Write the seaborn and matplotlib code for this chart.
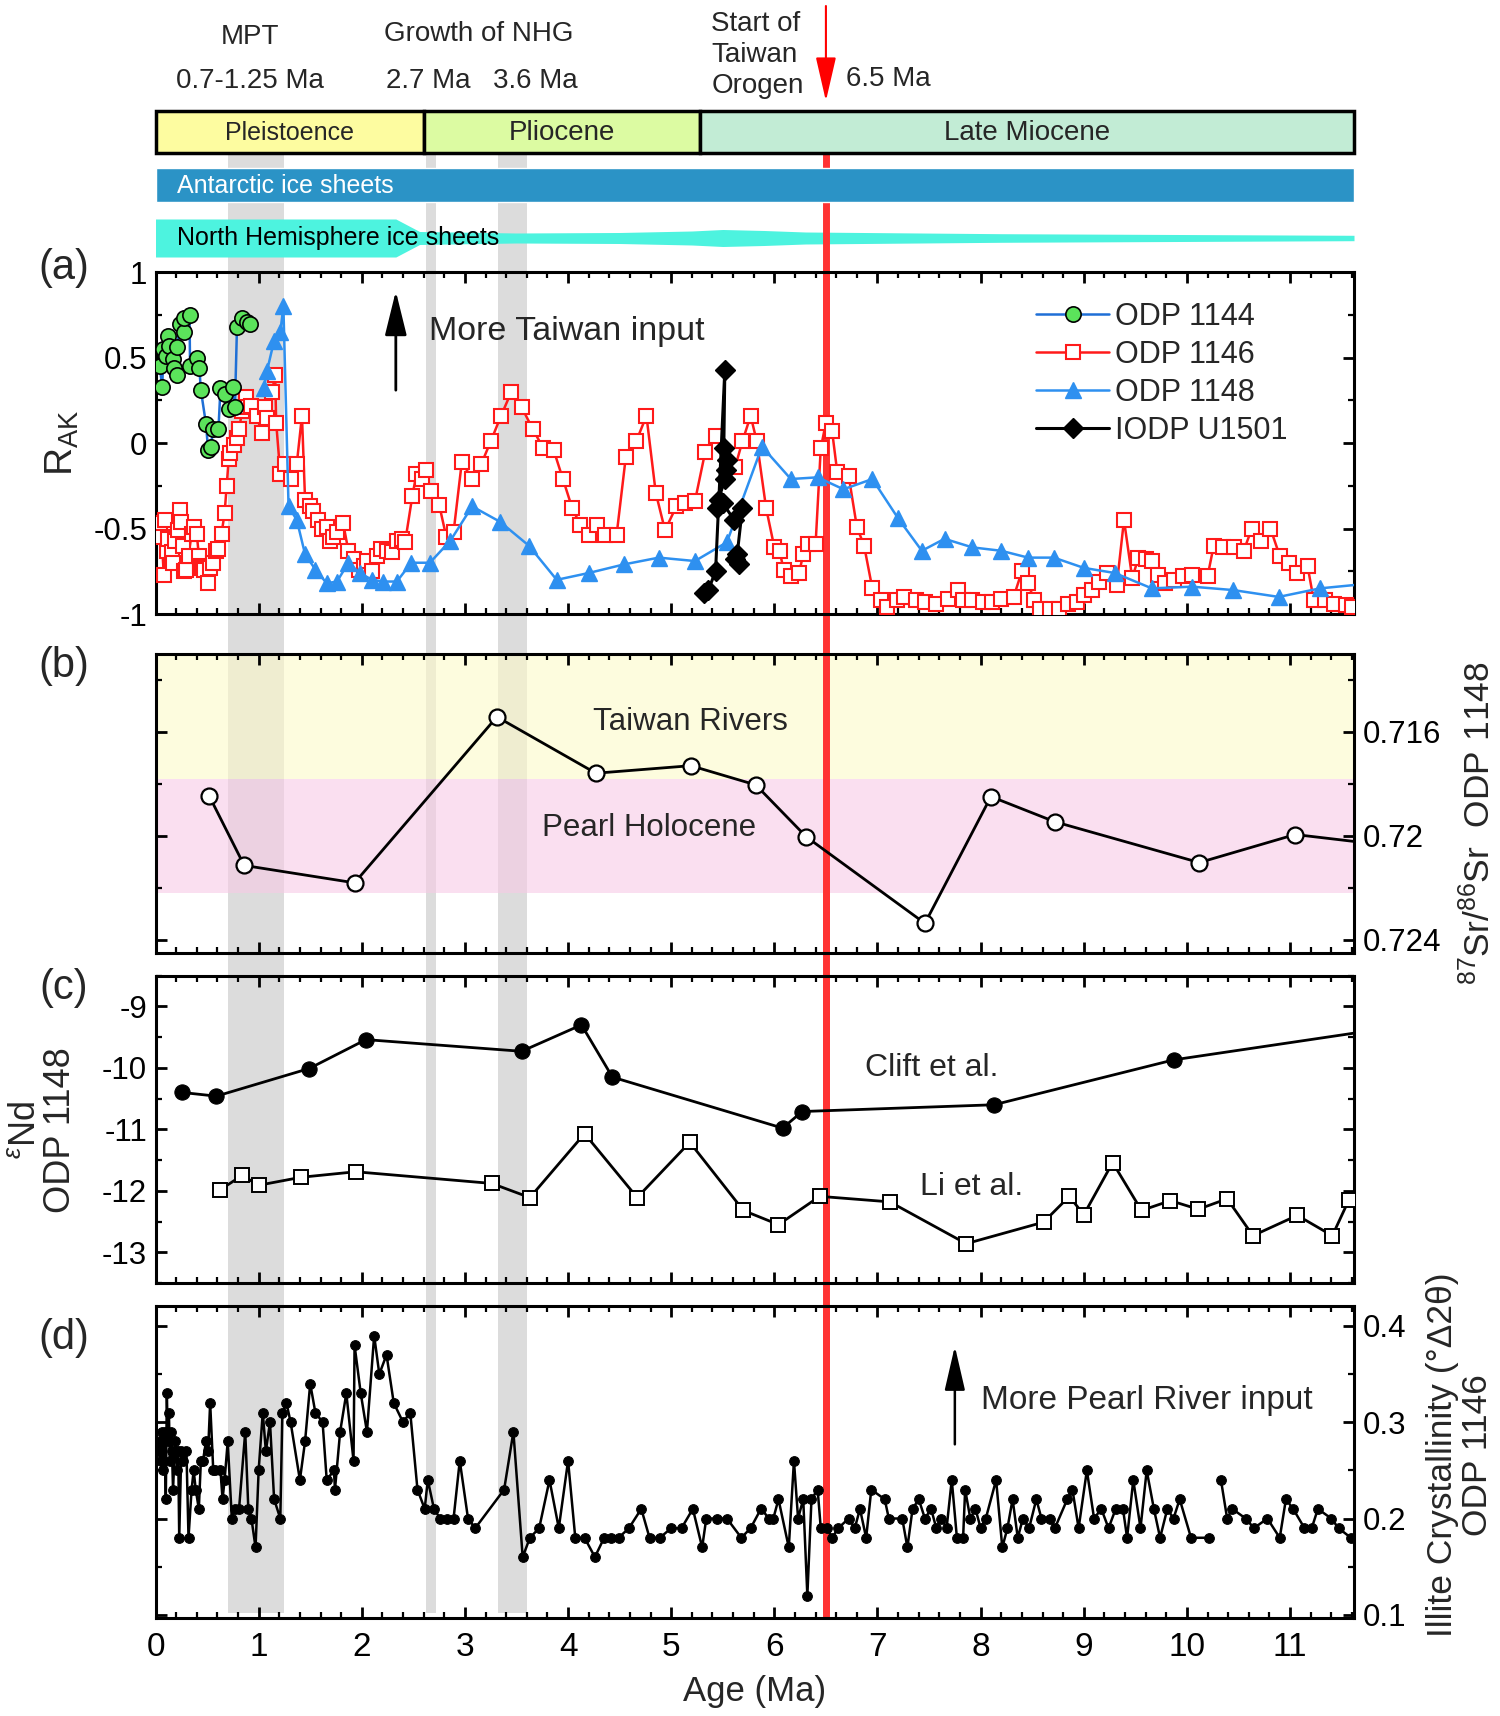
import matplotlib
matplotlib.use("Agg")
import matplotlib.pyplot as plt
from matplotlib.ticker import MultipleLocator, FixedLocator, FuncFormatter
import seaborn as sns

# ---------------- data ----------------
XMAX = 11.62
grey_bands = [(0.70, 1.25), (2.62, 2.72), (3.32, 3.60)]
orogen_age = 6.5

epoch_names = ["Pleistoence", "Pliocene", "Late Miocene"]
epoch_start = [0.0, 2.6, 5.28]
epoch_end = [2.6, 5.28, XMAX]
epoch_colors = ["#fdfca0", "#dcfba2", "#c2ecd5"]

# North Hemisphere ice sheet band outline (schematic, px from top)
nh_age = [0.0, 2.33, 2.56, 3.5, 4.5, 5.2, 5.5, 5.9, 6.3, 8.2, XMAX]
nh_top = [219, 219, 231.5, 233, 232.5, 231, 229.5, 230.5, 232, 233.7, 235.3]
nh_bot = [257, 257, 244.5, 243, 243.5, 245, 246.5, 245.5, 244, 242.3, 240.7]

# (a) R_AK
odp1144_age = [0.04, 0.066, 0.076, 0.10, 0.12, 0.13, 0.17, 0.175, 0.205, 0.21, 0.24, 0.275,
               0.28, 0.33, 0.335, 0.40, 0.425, 0.44, 0.49, 0.51, 0.535, 0.56, 0.61, 0.63,
               0.67, 0.71, 0.755, 0.77, 0.79, 0.84, 0.885, 0.92]
odp1144_rak = [0.45, 0.33, 0.55, 0.51, 0.63, 0.57, 0.49, 0.44, 0.40, 0.56, 0.70, 0.65,
               0.73, 0.75, 0.45, 0.50, 0.44, 0.31, 0.11, -0.04, -0.02, 0.08, 0.08, 0.32,
               0.29, 0.20, 0.33, 0.21, 0.68, 0.73, 0.71, 0.70]

odp1146_age = [0.04, 0.06, 0.08, 0.09, 0.11, 0.12, 0.16, 0.17, 0.19, 0.22,
               0.24, 0.25, 0.27, 0.28, 0.30, 0.32, 0.35, 0.37, 0.40, 0.42,
               0.43, 0.45, 0.47, 0.51, 0.53, 0.56, 0.59, 0.61, 0.64, 0.67,
               0.69, 0.71, 0.72, 0.76, 0.79, 0.81, 0.84, 0.88, 0.90, 0.93,
               0.98, 1.03, 1.06, 1.08, 1.13, 1.16, 1.17, 1.21, 1.26, 1.31,
               1.37, 1.42, 1.45, 1.50, 1.53, 1.58, 1.61, 1.66, 1.69, 1.72,
               1.76, 1.82, 1.87, 1.92, 1.97, 2.02, 2.05, 2.10, 2.15, 2.19,
               2.24, 2.29, 2.34, 2.39, 2.42, 2.49, 2.53, 2.58, 2.62, 2.67,
               2.75, 2.82, 2.89, 2.97, 3.07, 3.16, 3.25, 3.35, 3.45, 3.55,
               3.66, 3.76, 3.86, 3.95, 4.04, 4.12, 4.20, 4.28, 4.36, 4.47,
               4.56, 4.66, 4.76, 4.85, 4.94, 5.05, 5.13, 5.23, 5.33, 5.43,
               5.62, 5.69, 5.77, 5.83, 5.92, 6.00, 6.05, 6.09, 6.16, 6.24,
               6.28, 6.33, 6.40, 6.45, 6.50, 6.56, 6.61, 6.72, 6.80, 6.87,
               6.95, 7.03, 7.09, 7.19, 7.26, 7.37, 7.46, 7.57, 7.68, 7.78,
               7.83, 7.92, 8.02, 8.11, 8.20, 8.32, 8.40, 8.46, 8.52, 8.58,
               8.67, 8.76, 8.85, 8.93, 9.00, 9.08, 9.15, 9.23, 9.32, 9.39,
               9.47, 9.53, 9.60, 9.66, 9.72, 9.79, 9.87, 9.96, 10.05, 10.20,
               10.26, 10.35, 10.46, 10.55, 10.63, 10.72, 10.81, 10.90, 10.99, 11.07,
               11.17, 11.23, 11.34, 11.43, 11.54, 11.60]
odp1146_rak = [-0.47, -0.55, -0.77, -0.45, -0.63, -0.56, -0.64, -0.70, -0.57, -0.51,
               -0.39, -0.46, -0.60, -0.75, -0.74, -0.66, -0.53, -0.49, -0.53, -0.66,
               -0.72, -0.73, -0.74, -0.82, -0.73, -0.70, -0.63, -0.62, -0.53, -0.41,
               -0.25, -0.09, -0.06, -0.01, 0.03, 0.08, 0.19, 0.27, 0.21, 0.22,
               0.16, 0.06, 0.21, 0.15, 0.30, 0.40, 0.12, -0.18, -0.12, -0.21,
               -0.12, 0.16, -0.33, -0.37, -0.40, -0.45, -0.50, -0.49, -0.57, -0.55,
               -0.52, -0.47, -0.63, -0.68, -0.74, -0.72, -0.69, -0.75, -0.66, -0.62,
               -0.63, -0.64, -0.57, -0.56, -0.58, -0.31, -0.18, -0.21, -0.16, -0.28,
               -0.36, -0.55, -0.52, -0.11, -0.21, -0.12, 0.01, 0.16, 0.30, 0.21,
               0.08, -0.03, -0.04, -0.21, -0.38, -0.48, -0.54, -0.48, -0.54, -0.54,
               -0.08, 0.01, 0.16, -0.29, -0.51, -0.37, -0.35, -0.34, -0.05, 0.04,
               -0.14, 0.01, 0.16, 0.01, -0.38, -0.61, -0.63, -0.74, -0.78, -0.76,
               -0.65, -0.59, -0.59, -0.03, 0.12, 0.07, -0.17, -0.19, -0.49, -0.60,
               -0.85, -0.92, -0.96, -0.92, -0.90, -0.92, -0.93, -0.94, -0.91, -0.86,
               -0.92, -0.92, -0.93, -0.93, -0.91, -0.90, -0.75, -0.82, -0.92, -0.97,
               -0.97, -0.97, -0.94, -0.93, -0.89, -0.86, -0.81, -0.76, -0.83, -0.45,
               -0.79, -0.67, -0.68, -0.69, -0.77, -0.82, -0.80, -0.78, -0.77, -0.78,
               -0.60, -0.61, -0.61, -0.63, -0.50, -0.57, -0.50, -0.66, -0.70, -0.76,
               -0.72, -0.92, -0.92, -0.94, -0.95, -0.96]

odp1148_age = [1.05, 1.08, 1.15, 1.21, 1.24, 1.29, 1.37, 1.45, 1.55, 1.66,
               1.76, 1.87, 1.98, 2.10, 2.21, 2.34, 2.48, 2.66, 2.86, 3.07,
               3.34, 3.62, 3.89, 4.20, 4.54, 4.88, 5.23, 5.54, 5.88, 6.16,
               6.42, 6.67, 6.95, 7.20, 7.43, 7.65, 7.92, 8.20, 8.46, 8.71,
               9.00, 9.30, 9.66, 10.05, 10.45, 10.89, 11.29, 11.80]
odp1148_rak = [0.32, 0.42, 0.60, 0.65, 0.80, -0.37, -0.45, -0.65, -0.74, -0.82,
               -0.81, -0.70, -0.76, -0.80, -0.81, -0.81, -0.70, -0.70, -0.57, -0.37,
               -0.46, -0.60, -0.80, -0.76, -0.71, -0.67, -0.69, -0.58, -0.02, -0.21,
               -0.20, -0.27, -0.21, -0.44, -0.63, -0.56, -0.61, -0.63, -0.67, -0.67,
               -0.73, -0.76, -0.85, -0.84, -0.86, -0.90, -0.85, -0.82]

u1501_age = [5.32, 5.36, 5.43, 5.52, 5.51, 5.54, 5.53, 5.52, 5.46, 5.44, 5.50,
             5.61, 5.69, 5.64, 5.66, 5.62]
u1501_rak = [-0.88, -0.86, -0.75, 0.43, -0.03, -0.10, -0.16, -0.21, -0.33, -0.38, -0.35,
             -0.45, -0.38, -0.65, -0.71, -0.68]

# (b) 87Sr/86Sr ODP 1148
sr_age = [0.52, 0.86, 1.93, 3.31, 4.27, 5.19, 5.82, 6.31, 7.46, 8.10, 8.72, 10.12, 11.05, 11.80]
sr_val = [0.71846, 0.72114, 0.72181, 0.71542, 0.71759, 0.71730, 0.71804, 0.72004,
          0.72337, 0.71849, 0.71946, 0.72103, 0.71995, 0.72030]
taiwan_band = (0.7130, 0.7178)
pearl_band = (0.7178, 0.7222)

# (c) eNd ODP 1148
clift_age = [0.26, 0.59, 1.49, 2.04, 3.55, 4.13, 4.43, 6.08, 6.27, 8.13, 9.87, 11.80]
clift_end = [-10.40, -10.46, -10.01, -9.54, -9.73, -9.30, -10.15, -10.98, -10.71,
             -10.60, -9.87, -9.39]
li_age = [0.63, 0.84, 1.00, 1.41, 1.94, 3.26, 3.63, 4.16, 4.67, 5.18, 5.70, 6.04, 6.44,
          7.12, 7.86, 8.61, 8.86, 9.00, 9.28, 9.56, 9.84, 10.11, 10.39, 10.64, 11.07,
          11.41, 11.57]
li_end = [-11.98, -11.75, -11.91, -11.78, -11.69, -11.88, -12.11, -11.07, -12.11, -11.21,
          -12.32, -12.55, -12.09, -12.18, -12.86, -12.51, -12.09, -12.39, -11.54, -12.32,
          -12.16, -12.30, -12.13, -12.73, -12.40, -12.73, -12.15]

# (d) Illite crystallinity ODP 1146 (gap between 10.21 and 10.33 Ma)
ic_age_early = [0.02, 0.04, 0.05, 0.06, 0.07, 0.08, 0.09, 0.10, 0.11, 0.12,
                0.13, 0.14, 0.15, 0.16, 0.17, 0.19, 0.20, 0.21, 0.22, 0.23,
                0.25, 0.27, 0.30, 0.32, 0.35, 0.37, 0.39, 0.42, 0.44, 0.46,
                0.49, 0.51, 0.53, 0.56, 0.58, 0.63, 0.65, 0.67, 0.70, 0.74,
                0.77, 0.81, 0.87, 0.90, 0.93, 0.97,
                1.00, 1.04, 1.07, 1.11, 1.15, 1.21, 1.23, 1.27, 1.31, 1.40,
                1.45, 1.50, 1.55, 1.62, 1.66, 1.73, 1.74, 1.79, 1.85, 1.92,
                1.93, 1.99, 2.05, 2.12, 2.17, 2.24, 2.31, 2.40, 2.47, 2.54,
                2.61, 2.64, 2.70, 2.76, 2.83, 2.89, 2.95, 3.03, 3.10, 3.38,
                3.47, 3.56, 3.63, 3.72, 3.82, 3.91, 4.00, 4.07, 4.16, 4.26,
                4.35, 4.42, 4.49, 4.59, 4.71, 4.79, 4.89, 5.00, 5.10, 5.21,
                5.30, 5.34, 5.44, 5.54, 5.68, 5.77]
ic_val_early = [0.27, 0.28, 0.26, 0.29, 0.25, 0.28, 0.29, 0.22, 0.33, 0.28,
                0.31, 0.26, 0.29, 0.27, 0.23, 0.28, 0.27, 0.25, 0.27, 0.18,
                0.27, 0.26, 0.27, 0.18, 0.23, 0.25, 0.23, 0.21, 0.26, 0.26,
                0.28, 0.27, 0.32, 0.25, 0.25, 0.25, 0.22, 0.24, 0.28, 0.20,
                0.21, 0.21, 0.29, 0.21, 0.20, 0.17,
                0.25, 0.31, 0.27, 0.30, 0.22, 0.20, 0.31, 0.32, 0.30, 0.24,
                0.28, 0.34, 0.31, 0.30, 0.24, 0.25, 0.23, 0.29, 0.33, 0.26,
                0.38, 0.33, 0.29, 0.39, 0.35, 0.37, 0.32, 0.30, 0.31, 0.23,
                0.21, 0.24, 0.21, 0.20, 0.20, 0.20, 0.26, 0.20, 0.19, 0.23,
                0.29, 0.16, 0.18, 0.19, 0.24, 0.19, 0.26, 0.18, 0.18, 0.16,
                0.18, 0.18, 0.18, 0.19, 0.21, 0.18, 0.18, 0.19, 0.19, 0.21,
                0.17, 0.20, 0.20, 0.20, 0.18, 0.19]
ic_age_mid = [5.87, 5.95, 5.99, 6.04, 6.14, 6.19, 6.23, 6.28, 6.32, 6.36,
              6.42, 6.45, 6.51, 6.56, 6.62, 6.72, 6.78, 6.83, 6.89, 6.94,
              7.07, 7.11, 7.24, 7.29, 7.34, 7.40, 7.46, 7.52, 7.57, 7.62,
              7.67, 7.72, 7.77, 7.83, 7.85, 7.90, 7.95, 8.00, 8.05, 8.15,
              8.21, 8.26, 8.31, 8.36, 8.41, 8.47, 8.54, 8.59, 8.67, 8.72,
              8.84, 8.89, 8.95, 9.03, 9.10, 9.17, 9.24, 9.31, 9.38, 9.42,
              9.48, 9.55, 9.61, 9.68, 9.74, 9.81, 9.87, 9.93, 10.04, 10.21]
ic_val_mid = [0.21, 0.20, 0.20, 0.22, 0.17, 0.26, 0.20, 0.22, 0.12, 0.22,
              0.23, 0.19, 0.19, 0.18, 0.19, 0.20, 0.19, 0.21, 0.18, 0.23,
              0.22, 0.20, 0.20, 0.17, 0.21, 0.22, 0.20, 0.21, 0.19, 0.20,
              0.19, 0.24, 0.18, 0.18, 0.23, 0.20, 0.21, 0.19, 0.20, 0.24,
              0.17, 0.19, 0.22, 0.18, 0.20, 0.19, 0.22, 0.20, 0.20, 0.19,
              0.22, 0.23, 0.19, 0.25, 0.20, 0.21, 0.19, 0.21, 0.21, 0.18,
              0.24, 0.19, 0.25, 0.21, 0.18, 0.21, 0.20, 0.22, 0.18, 0.18]
ic_age_late = [10.33, 10.39, 10.44, 10.57, 10.65, 10.78, 10.90, 10.96, 11.03, 11.14,
               11.21, 11.27, 11.40, 11.47, 11.59]
ic_val_late = [0.24, 0.20, 0.21, 0.20, 0.19, 0.20, 0.18, 0.22, 0.21, 0.19,
               0.19, 0.21, 0.20, 0.19, 0.18]

# ---------------- style ----------------
sns.set_theme(style="ticks", rc={
    "axes.edgecolor": "black", "axes.linewidth": 2.2,
    "xtick.color": "black", "ytick.color": "black",
    "xtick.direction": "in", "ytick.direction": "in",
    "xtick.top": True, "ytick.right": True,
    "xtick.major.size": 8, "ytick.major.size": 8,
    "xtick.minor.size": 4.5, "ytick.minor.size": 4.5,
    "xtick.major.width": 2, "ytick.major.width": 2,
    "xtick.minor.width": 1.6, "ytick.minor.width": 1.6,
})
plt.rcParams["font.family"] = ["Liberation Sans", "DejaVu Sans"]
plt.rcParams["axes.unicode_minus"] = False
plt.rcParams["mathtext.fontset"] = "custom"
plt.rcParams["mathtext.rm"] = "Liberation Sans"
plt.rcParams["mathtext.it"] = "Liberation Sans:italic"

RED = "#ff3333"
GREY = "#dcdcdc"
FIG_W, FIG_H = 1500, 1716
L = 155.5 / FIG_W
W = (1354 - 155.5) / FIG_W
YTICK = 22.5

fig = plt.figure(figsize=(15, 17.16), dpi=100)


def fx(px):
    return px / FIG_W


def fy(py):
    return 1 - py / FIG_H


# background axes: x in Ma, y in pixels from the top of the figure
bg = fig.add_axes([L, 0, W, 1], zorder=0)
bg.set_xlim(0, XMAX)
bg.set_ylim(FIG_H, 0)
bg.axis("off")

for a0, a1 in grey_bands:
    bg.fill_between([a0, a1], 153, 1613, color=GREY, lw=0, zorder=1)
bg.plot([orogen_age, orogen_age], [153, 1613], color=RED, lw=5, zorder=3, solid_capstyle="butt")

# epochs
bg.barh([132] * 3, [e - s for s, e in zip(epoch_start, epoch_end)], left=epoch_start,
        height=42, color=epoch_colors, edgecolor="black", linewidth=2.5, zorder=5, clip_on=False)
for name, s, e, fs in zip(epoch_names, epoch_start, epoch_end, [18, 20, 20]):
    bg.text((s + e) / 2, 133, name, ha="center", va="center", fontsize=fs, zorder=6)

# ice sheets
bg.barh([185], [XMAX], left=0, height=34.6, color="#2b93c6", zorder=4, clip_on=False)
bg.text(0.21, 186, "Antarctic ice sheets", color="white", fontsize=18, va="center", zorder=6)
bg.fill_between(nh_age, nh_top, nh_bot, color="#4df3df", lw=0, zorder=2)
bg.text(0.21, 238, "North Hemisphere ice sheets", color="black", fontsize=18, va="center", zorder=6)

# events above
bg.text(0.917, 37, "MPT", ha="center", va="center", fontsize=20)
bg.text(0.917, 81, "0.7-1.25 Ma", ha="center", va="center", fontsize=20)
bg.text(3.13, 34, "Growth of NHG", ha="center", va="center", fontsize=20)
bg.text(2.64, 81, "2.7 Ma", ha="center", va="center", fontsize=20)
bg.text(3.68, 81, "3.6 Ma", ha="center", va="center", fontsize=20)
bg.text(5.39, 55, "Start of\nTaiwan\nOrogen", ha="left", va="center", fontsize=20, linespacing=1.25)
bg.text(6.69, 79, "6.5 Ma", ha="left", va="center", fontsize=20)
bg.annotate("", xy=(orogen_age, 101), xytext=(orogen_age, 6),
            arrowprops=dict(arrowstyle="-|>,head_length=1.3,head_width=0.3", color="red",
                            lw=1.5, mutation_scale=21, shrinkA=0, shrinkB=0))


def panel(top, bot):
    ax = fig.add_axes([L, fy(bot), W, (bot - top) / FIG_H], facecolor="none", zorder=1)
    return ax


def style(ax, ylim, major, minor, left_labels, right_labels, size=YTICK):
    ax.set_xlim(0, XMAX)
    ax.set_ylim(*ylim)
    ax.xaxis.set_major_locator(MultipleLocator(1))
    ax.xaxis.set_minor_locator(MultipleLocator(0.2))
    ax.yaxis.set_major_locator(major)
    ax.yaxis.set_minor_locator(minor)
    ax.yaxis.set_major_formatter(FuncFormatter(lambda v, _: f"{v:g}"))
    ax.xaxis.set_major_formatter(FuncFormatter(lambda v, _: f"{v:g}"))
    ax.tick_params(which="both", top=True, right=True, direction="in")
    ax.tick_params(axis="x", labelbottom=False)
    ax.tick_params(axis="y", labelleft=left_labels, labelright=right_labels, labelsize=size, pad=6)
    for sp in ax.spines.values():
        sp.set_visible(True)
        sp.set_linewidth(2.2)
        sp.set_color("black")
    ax.set_xlabel("")
    ax.set_ylabel("")


# ---------------- (a) ----------------
axA = panel(272.3, 614)
axA.axvline(orogen_age, color=RED, lw=5, zorder=2)
sns.lineplot(x=odp1146_age, y=odp1146_rak, ax=axA, sort=False, estimator=None, color="#ff1a1a",
             lw=1.8, marker="s", markersize=10, markerfacecolor="white",
             markeredgecolor="#ff1a1a", markeredgewidth=1.5, zorder=3)
h1146 = axA.lines[-1]
sns.lineplot(x=odp1148_age, y=odp1148_rak, ax=axA, sort=False, estimator=None, color="#2e90f0",
             lw=1.8, marker="^", markersize=12, markerfacecolor="#2e90f0",
             markeredgecolor="#2e90f0", markeredgewidth=1, zorder=4)
h1148 = axA.lines[-1]
sns.lineplot(x=odp1144_age, y=odp1144_rak, ax=axA, sort=False, estimator=None, color="#1f6fd6",
             lw=1.8, marker="o", markersize=11, markerfacecolor="#5be35b",
             markeredgecolor="black", markeredgewidth=1.2, zorder=5)
h1144 = axA.lines[-1]
sns.lineplot(x=u1501_age, y=u1501_rak, ax=axA, sort=False, estimator=None, color="black",
             lw=2.2, marker="D", markersize=10, markerfacecolor="black",
             markeredgecolor="black", markeredgewidth=1, zorder=6)
h1501 = axA.lines[-1]
style(axA, (-1, 1), MultipleLocator(0.5), MultipleLocator(0.25), True, False)
axA.legend([h1144, h1146, h1148, h1501], ["ODP 1144", "ODP 1146", "ODP 1148", "IODP U1501"],
           frameon=False, fontsize=22, handlelength=2.4, handletextpad=0.2, labelspacing=0.26,
           borderpad=0, borderaxespad=0, loc="center left",
           bbox_to_anchor=(fx(1036), fy(374)), bbox_transform=fig.transFigure)
axA.annotate("", xy=(2.33, 0.89), xytext=(2.33, 0.31),
             arrowprops=dict(arrowstyle="-|>,head_length=1.3,head_width=0.32", color="black",
                             lw=2, mutation_scale=21, shrinkA=0, shrinkB=0))
axA.text(2.65, 0.655, "More Taiwan input", fontsize=24.5, va="center", ha="left")

# ---------------- (b) ----------------
axB = panel(654, 952.7)
axB.axhspan(*taiwan_band, color="#fcfac8", alpha=0.6, lw=0, zorder=0.5)
axB.axhspan(*pearl_band, color="#f8cbe6", alpha=0.6, lw=0, zorder=0.5)
axB.axvline(orogen_age, color=RED, lw=5, zorder=2)
sns.lineplot(x=sr_age, y=sr_val, ax=axB, sort=False, estimator=None, color="black", lw=2,
             marker="o", markersize=11.5, markerfacecolor="white", markeredgecolor="black",
             markeredgewidth=1.6, zorder=4)
style(axB, (0.7245, 0.713), FixedLocator([0.716, 0.72, 0.724]),
      FixedLocator([0.714, 0.718, 0.722]), False, True)
axB.text(4.24, 0.71562, "Taiwan Rivers", fontsize=22.5, va="center", ha="left")
axB.text(3.745, 0.7197, "Pearl Holocene", fontsize=22.5, va="center", ha="left")

# ---------------- (c) ----------------
axC = panel(975.7, 1283)
axC.axvline(orogen_age, color=RED, lw=5, zorder=2)
sns.lineplot(x=clift_age, y=clift_end, ax=axC, sort=False, estimator=None, color="black", lw=2,
             marker="o", markersize=11, markerfacecolor="black", markeredgecolor="black", zorder=4)
sns.lineplot(x=li_age, y=li_end, ax=axC, sort=False, estimator=None, color="black", lw=2,
             marker="s", markersize=10, markerfacecolor="white", markeredgecolor="black",
             markeredgewidth=1.4, zorder=4)
style(axC, (-13.5, -8.5), MultipleLocator(1), MultipleLocator(0.5), True, False)
axC.text(6.88, -10.0, "Clift et al.", fontsize=23, va="center", ha="left")
axC.text(7.41, -11.93, "Li et al.", fontsize=23, va="center", ha="left")

# ---------------- (d) ----------------
axD = panel(1305.7, 1617.7)
axD.axvline(orogen_age, color=RED, lw=5, zorder=2, ymax=0.985)
sns.lineplot(x=ic_age_early + ic_age_mid, y=ic_val_early + ic_val_mid, ax=axD, sort=False,
             estimator=None, color="black", lw=1.8, marker="o", markersize=7,
             markerfacecolor="black", markeredgecolor="black", zorder=4)
sns.lineplot(x=ic_age_late, y=ic_val_late, ax=axD, sort=False, estimator=None, color="black",
             lw=1.8, marker="o", markersize=7, markerfacecolor="black",
             markeredgecolor="black", zorder=4)
style(axD, (0.097, 0.421), MultipleLocator(0.1), MultipleLocator(0.05), False, True)
axD.tick_params(axis="x", labelbottom=True, labelsize=24, pad=10)
axD.annotate("", xy=(7.75, 0.379), xytext=(7.75, 0.277),
             arrowprops=dict(arrowstyle="-|>,head_length=1.3,head_width=0.3", color="black",
                             lw=1.8, mutation_scale=21, shrinkA=0, shrinkB=0))
axD.text(8.0, 0.323, "More Pearl River input", fontsize=24, va="center", ha="left")
axD.set_xlabel("Age (Ma)", fontsize=25, labelpad=9)

# ---------------- labels ----------------
for lab, ypx in zip(["(a)", "(b)", "(c)", "(d)"], [268, 666, 988, 1338]):
    fig.text(fx(64), fy(ypx), lab, fontsize=30, ha="center", va="center")
fig.text(fx(62), fy(443), r"R$_{\mathrm{AK}}$", fontsize=28, rotation=90, ha="center", va="center")
fig.text(fx(43), fy(1130), "$^{\\varepsilon}$Nd\nODP 1148", fontsize=26, rotation=90,
         ha="center", va="center", multialignment="center", linespacing=1.0)
fig.text(fx(1479), fy(823), r"$^{87}$Sr/$^{86}$Sr  ODP 1148", fontsize=25.5, rotation=90,
         ha="center", va="center")
fig.text(fx(1460), fy(1455), "Illite Crystallinity (°Δ2θ)\nODP 1146", fontsize=25.5, rotation=90,
         ha="center", va="center", multialignment="center", linespacing=1.05)

fig.savefig("out.png", dpi=100)
